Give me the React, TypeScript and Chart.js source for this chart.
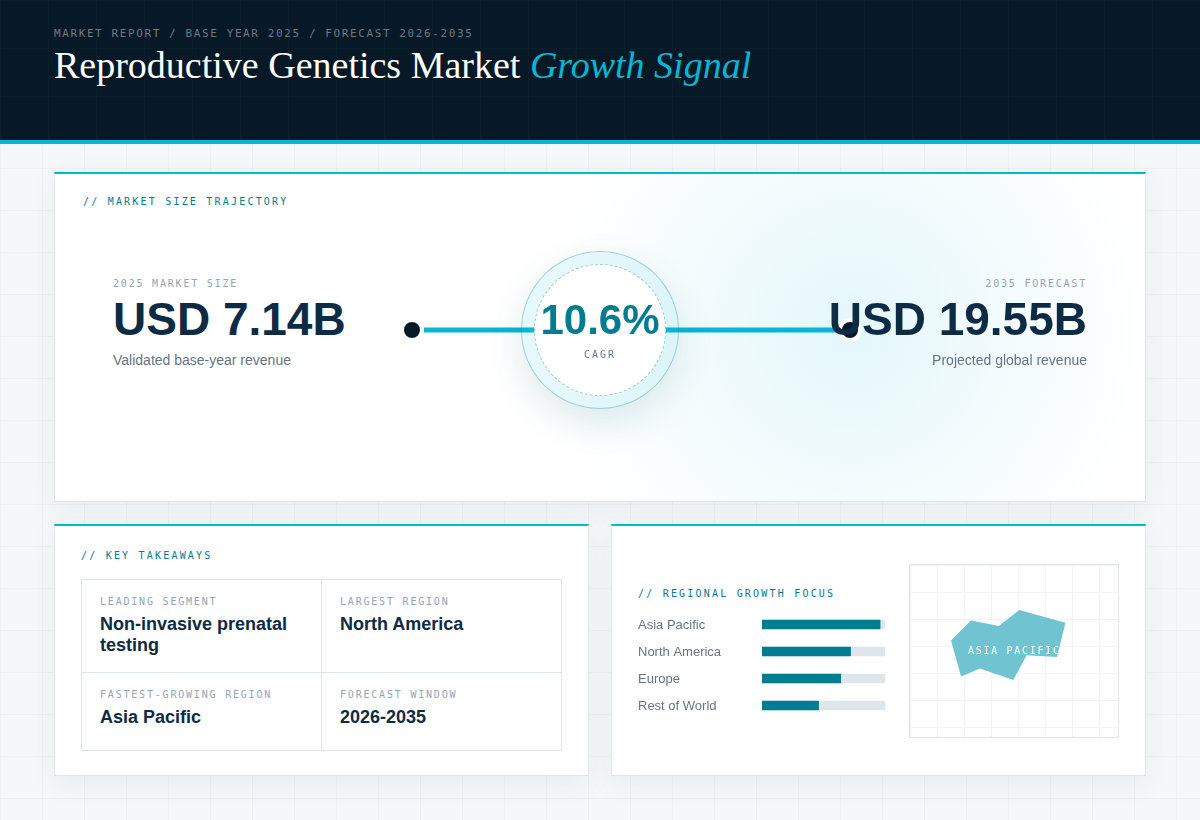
import React, { useEffect, useRef } from "react";
import { Chart, registerables } from "chart.js";

Chart.register(...registerables);

// trajectory rail
const railYears = [2025, 2035];
const railLevel = [0, 0];

// regional growth bars
const regions = ["Asia Pacific", "North America", "Europe", "Rest of World"];
const regionGrowth = [96, 72, 64, 46];
const regionTrack = [100, 100, 100, 100];

// map outline, in percent of the map panel
const outlineX = [20, 29.5, 42.8, 52.5, 74.5, 70.5, 56, 49.7, 33.8, 24.8, 20];
const outlineY = [44, 32.4, 35.6, 26.4, 33.7, 53.4, 52.4, 66.7, 60, 64.7, 44];

const SANS = '"Liberation Sans", Arial, sans-serif';
const SERIF = '"Liberation Serif", "Times New Roman", serif';
const MONO = '"DejaVu Sans Mono", monospace';

const CYAN = "#06b6d4";
const TEAL = "#007c91";
const NAVY = "#0d2b45";
const SLATE = "#64748b";
const MUTED = "#94a3b8";

const abs = (left: number, top: number, width: number, height: number): React.CSSProperties => ({
  position: "absolute",
  left,
  top,
  width,
  height,
  boxSizing: "border-box",
});

const Mono = ({ x, y, right, color, size = 10, spacing, children }: any) => (
  <div
    style={{
      position: "absolute",
      top: y,
      left: right === undefined ? x : undefined,
      right: right === undefined ? undefined : 1200 - right,
      fontFamily: MONO,
      fontSize: size,
      letterSpacing: spacing,
      lineHeight: "14px",
      color,
      whiteSpace: "nowrap",
    }}
  >
    {children}
  </div>
);

const Card = ({ x, y, w, h, children }: any) => (
  <div
    style={{
      ...abs(x, y, w, h),
      background: "#fff",
      border: "1px solid #dfe6ea",
      borderTop: `2px solid ${CYAN}`,
      boxShadow: "0 8px 28px rgba(13,43,69,0.06)",
    }}
  >
    {children}
  </div>
);

const Cell = ({ x, y, label, value }: any) => (
  <>
    <Mono x={x} y={y} color={MUTED} spacing="1.8px">
      {label}
    </Mono>
    <div
      style={{
        position: "absolute",
        left: x,
        top: y + 19,
        width: 205,
        fontFamily: SANS,
        fontWeight: 700,
        fontSize: 18,
        lineHeight: "21px",
        color: NAVY,
      }}
    >
      {value}
    </div>
  </>
);

export default function App() {
  const railRef = useRef<HTMLCanvasElement>(null);
  const barsRef = useRef<HTMLCanvasElement>(null);
  const mapRef = useRef<HTMLCanvasElement>(null);

  useEffect(() => {
    const rail = new Chart(railRef.current!, {
      type: "line",
      data: {
        labels: railYears,
        datasets: [
          {
            data: railYears.map((year, i) => ({ x: year, y: railLevel[i] })),
            borderColor: CYAN,
            borderWidth: 5,
            pointRadius: 10,
            pointBorderWidth: 4,
            pointBackgroundColor: "#081a28",
            pointBorderColor: "#fff",
            clip: false,
          },
        ],
      } as any,
      options: {
        animation: false,
        responsive: false,
        layout: { autoPadding: false, padding: { left: 12, right: 12, top: 0, bottom: 0 } },
        plugins: { legend: { display: false }, tooltip: { enabled: false } },
        scales: {
          x: { type: "linear", min: 2025, max: 2035, display: false },
          y: { min: -1, max: 1, display: false },
        },
      },
    });

    const bars = new Chart(barsRef.current!, {
      type: "bar",
      data: {
        labels: regions,
        datasets: [
          { data: regionGrowth, backgroundColor: TEAL, barThickness: 9, grouped: false },
          { data: regionTrack, backgroundColor: "#dde6ed", barThickness: 9, grouped: false },
        ],
      } as any,
      options: {
        animation: false,
        responsive: false,
        indexAxis: "y",
        layout: { autoPadding: false, padding: 0 },
        plugins: { legend: { display: false }, tooltip: { enabled: false } },
        scales: {
          x: { min: 0, max: 100, display: false },
          y: {
            grid: { display: false },
            border: { display: false },
            afterFit: (scale: any) => {
              scale.width = 124;
              // labels would otherwise push the bands in by half a line
              scale.paddingTop = 0;
              scale.paddingBottom = 0;
            },
            ticks: {
              autoSkip: false,
              crossAlign: "far",
              padding: 0,
              labelOffset: 1,
              color: SLATE,
              font: { family: SANS, size: 13 },
            },
          },
        },
      },
    });

    const map = new Chart(mapRef.current!, {
      type: "scatter",
      data: {
        datasets: [
          {
            data: outlineX.map((x, i) => ({ x, y: outlineY[i] })),
            showLine: true,
            fill: "shape",
            tension: 0,
            pointRadius: 0,
            borderWidth: 0,
            backgroundColor: "#70c4d2",
          },
        ],
      } as any,
      options: {
        animation: false,
        responsive: false,
        layout: { autoPadding: false, padding: 0 },
        plugins: { legend: { display: false }, tooltip: { enabled: false } },
        scales: {
          x: { min: 0, max: 100, display: false },
          y: { min: 0, max: 100, reverse: true, display: false },
        },
      },
    });

    return () => {
      rail.destroy();
      bars.destroy();
      map.destroy();
    };
  }, []);

  return (
    <div
      style={{
        ...abs(0, 0, 1200, 820),
        overflow: "hidden",
        backgroundColor: "#f5f8f9",
        backgroundImage:
          "linear-gradient(to right, rgba(13,43,69,0.03) 1px, transparent 1px), linear-gradient(to bottom, rgba(13,43,69,0.03) 1px, transparent 1px)",
        backgroundSize: "42px 42px",
        fontFamily: SANS,
      }}
    >
      {/* header */}
      <div
        style={{
          ...abs(0, 0, 1200, 144),
          backgroundColor: "#071927",
          backgroundImage:
            "linear-gradient(to right, rgba(6,182,212,0.03) 1px, transparent 1px), linear-gradient(to bottom, rgba(6,182,212,0.03) 1px, transparent 1px)",
          backgroundSize: "48px 48px",
          borderBottom: `4px solid ${CYAN}`,
        }}
      />
      <Mono x={54} y={27} size={11} spacing="1.6px" color="#6d7880">
        MARKET REPORT / BASE YEAR 2025 / FORECAST 2026-2035
      </Mono>
      <div
        style={{
          position: "absolute",
          left: 54,
          top: 43,
          fontFamily: SERIF,
          fontSize: 38,
          lineHeight: "44px",
          color: "#fff",
          whiteSpace: "nowrap",
        }}
      >
        Reproductive Genetics Market <em style={{ color: CYAN }}>Growth Signal</em>
      </div>

      {/* trajectory card */}
      <Card x={54} y={172} w={1092} h={330}>
        <div
          style={{
            position: "absolute",
            inset: 0,
            background:
              "radial-gradient(circle 300px at 796px 157px, rgba(6,182,212,0.11), rgba(6,182,212,0.05) 50%, rgba(6,182,212,0) 100%)",
          }}
        />
      </Card>
      <Mono x={83} y={195} color={TEAL} spacing="2.2px">
        // MARKET SIZE TRAJECTORY
      </Mono>
      <canvas ref={railRef} width={462} height={40} style={{ ...abs(400, 310, 462, 40), display: "block" }} />

      <div
        style={{
          ...abs(521, 251, 158, 158),
          borderRadius: "50%",
          background: "rgba(6,182,212,0.1)",
          border: "1px solid rgba(0,124,145,0.3)",
          boxShadow: "0 14px 36px rgba(0,90,110,0.13)",
        }}
      />
      <div
        style={{
          ...abs(534, 264, 132, 132),
          borderRadius: "50%",
          background: "#fff",
          border: "1px dashed rgba(6,150,175,0.45)",
        }}
      />
      <div
        style={{
          ...abs(500, 297, 200, 46),
          textAlign: "center",
          fontWeight: 700,
          fontSize: 42,
          lineHeight: "46px",
          color: TEAL,
        }}
      >
        10.6%
      </div>
      <div
        style={{
          ...abs(500, 348, 200, 14),
          textAlign: "center",
          fontFamily: MONO,
          fontSize: 10,
          letterSpacing: "2px",
          lineHeight: "14px",
          color: SLATE,
        }}
      >
        CAGR
      </div>

      <Mono x={113} y={277} color={MUTED} spacing="1.8px">
        2025 MARKET SIZE
      </Mono>
      <div style={{ position: "absolute", left: 113, top: 294, fontWeight: 700, fontSize: 46, lineHeight: "50px", color: NAVY, whiteSpace: "nowrap" }}>
        USD 7.14B
      </div>
      <div style={{ position: "absolute", left: 113, top: 351, fontSize: 14, lineHeight: "18px", color: SLATE }}>
        Validated base-year revenue
      </div>

      <Mono right={1087} y={277} color={MUTED} spacing="1.8px">
        2035 FORECAST
      </Mono>
      <div style={{ position: "absolute", right: 113, top: 294, fontWeight: 700, fontSize: 46, lineHeight: "50px", color: NAVY, whiteSpace: "nowrap" }}>
        USD 19.55B
      </div>
      <div style={{ position: "absolute", right: 113, top: 351, fontSize: 14, lineHeight: "18px", color: SLATE }}>
        Projected global revenue
      </div>

      {/* key takeaways */}
      <Card x={54} y={524} w={535} h={252} />
      <Mono x={81} y={549} color={TEAL} spacing="2.2px">
        // KEY TAKEAWAYS
      </Mono>
      <div style={{ ...abs(81, 579, 481, 172), border: "1px solid #dfe4e8" }} />
      <div style={{ ...abs(321, 579, 1, 172), background: "#dfe4e8" }} />
      <div style={{ ...abs(81, 672, 481, 1), background: "#dfe4e8" }} />
      <Cell x={100} y={595} label="LEADING SEGMENT" value="Non-invasive prenatal testing" />
      <Cell x={340} y={595} label="LARGEST REGION" value="North America" />
      <Cell x={100} y={688} label="FASTEST-GROWING REGION" value="Asia Pacific" />
      <Cell x={340} y={688} label="FORECAST WINDOW" value="2026-2035" />

      {/* regional focus */}
      <Card x={611} y={524} w={535} h={252} />
      <Mono x={638} y={587} color={TEAL} spacing="2.2px">
        // REGIONAL GROWTH FOCUS
      </Mono>
      <canvas ref={barsRef} width={247} height={108} style={{ ...abs(638, 611, 247, 108), display: "block" }} />

      <div
        style={{
          ...abs(909, 564, 210, 174),
          border: "1px solid #dfe4e8",
          backgroundColor: "#fff",
          backgroundImage:
            "linear-gradient(to right, #f1f4f6 1px, transparent 1px), linear-gradient(to bottom, #f1f4f6 1px, transparent 1px)",
          backgroundSize: "27px 27px",
        }}
      />
      <canvas ref={mapRef} width={210} height={174} style={{ ...abs(909, 564, 210, 174), display: "block" }} />
      <Mono x={968} y={644} color="#fff" spacing="1.7px">
        ASIA PACIFIC
      </Mono>
    </div>
  );
}
